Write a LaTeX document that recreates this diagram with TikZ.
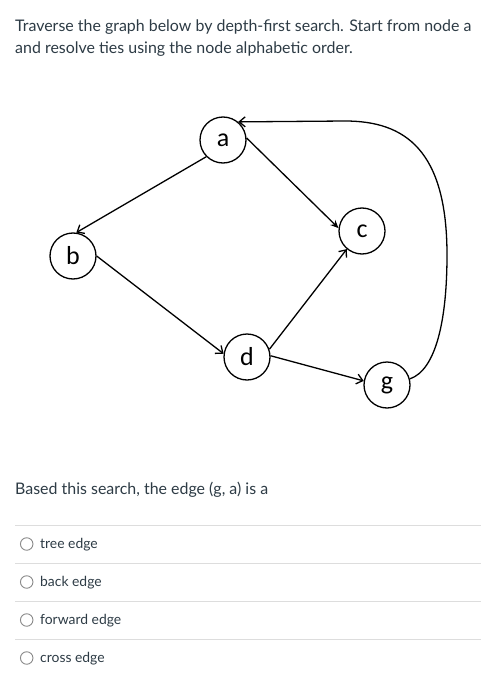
\documentclass[tikz,border=0pt]{standalone}
\usepackage{fontspec}
\setmainfont{Lato}
\newfontfamily\graphfont{Carlito}
\usepackage{xcolor}
\usetikzlibrary{arrows.meta}
\definecolor{canvastext}{HTML}{2D3B45}
\definecolor{rulegray}{HTML}{DDDDDD}
\definecolor{radiogray}{HTML}{8A8A8A}

\begin{document}
\begin{tikzpicture}[x=1pt, y=-1pt,
        vertex/.style={draw, circle, line width=1.3pt, minimum size=46pt, inner sep=0pt, font=\graphfont\fontsize{26}{26}\selectfont},
        arc/.style={line width=1.3pt, -{Straight Barb[length=6pt,width=10pt]}},
        prompt/.style={anchor=base west, inner sep=0pt, text=canvastext, font=\fontsize{15.95}{18}\selectfont},
        choice/.style={anchor=base west, inner sep=0pt, text=canvastext, font=\fontsize{13.9}{16}\selectfont},
        radio/.style={draw=radiogray, circle, line width=0.9pt, minimum size=12.5pt, inner sep=0pt},
        divider/.style={draw=rulegray, line width=1pt}]
            \useasboundingbox (0,0) rectangle (493,690);
            \fill[white] (0,0) rectangle (493,690);

            % question
            \node[prompt] (line1) at (15,31.5) {Traverse the graph below by depth-first search. Start from node a};
            \node[prompt] (line2) at (15,54) {and resolve ties using the node alphabetic order.};

            % graph
            \node[vertex] (a) at (223,140) {a};
            \node[vertex] (b) at (73,256) {b};
            \node[vertex] (c) at (362,231) {c};
            \node[vertex] (d) at (247,357) {d};
            \node[vertex] (g) at (387,385) {g};

            \draw[arc] (a.225) -- (b.82);
            \draw[line width=1.3pt, -{Stealth[length=8pt,width=7pt]}] (a.5) -- (c.173);
            \draw[arc] (b.0) -- (d.172);
            \draw[arc] (d.19) -- (c.230);
            \draw[arc] (d.3) -- (g.170);
            \draw[arc] (g.15) .. controls (436,370) and (447,320) .. (447,255)
                .. controls (447,150) and (405,121) .. (345,121) -- (a.50);

            % answer
            \node[prompt] (ask) at (15,494) {Based this search, the edge (g, a) is a};

            \draw[divider] (15,525.3) -- (481,525.3);
            \draw[divider] (15,563.3) -- (481,563.3);
            \draw[divider] (15,601.3) -- (481,601.3);
            \draw[divider] (15,639.3) -- (481,639.3);

            \node[radio] (r1) at (26.7,544) {};
            \node[radio] (r2) at (26.7,582) {};
            \node[radio] (r3) at (26.7,620) {};
            \node[radio] (r4) at (26.7,658) {};

            \node[choice] (tree) at (40,548) {tree edge};
            \node[choice] (back) at (40,586) {back edge};
            \node[choice] (forward) at (40,624) {forward edge};
            \node[choice] (cross) at (40,662) {cross edge};
        \end{tikzpicture}
\end{document}
